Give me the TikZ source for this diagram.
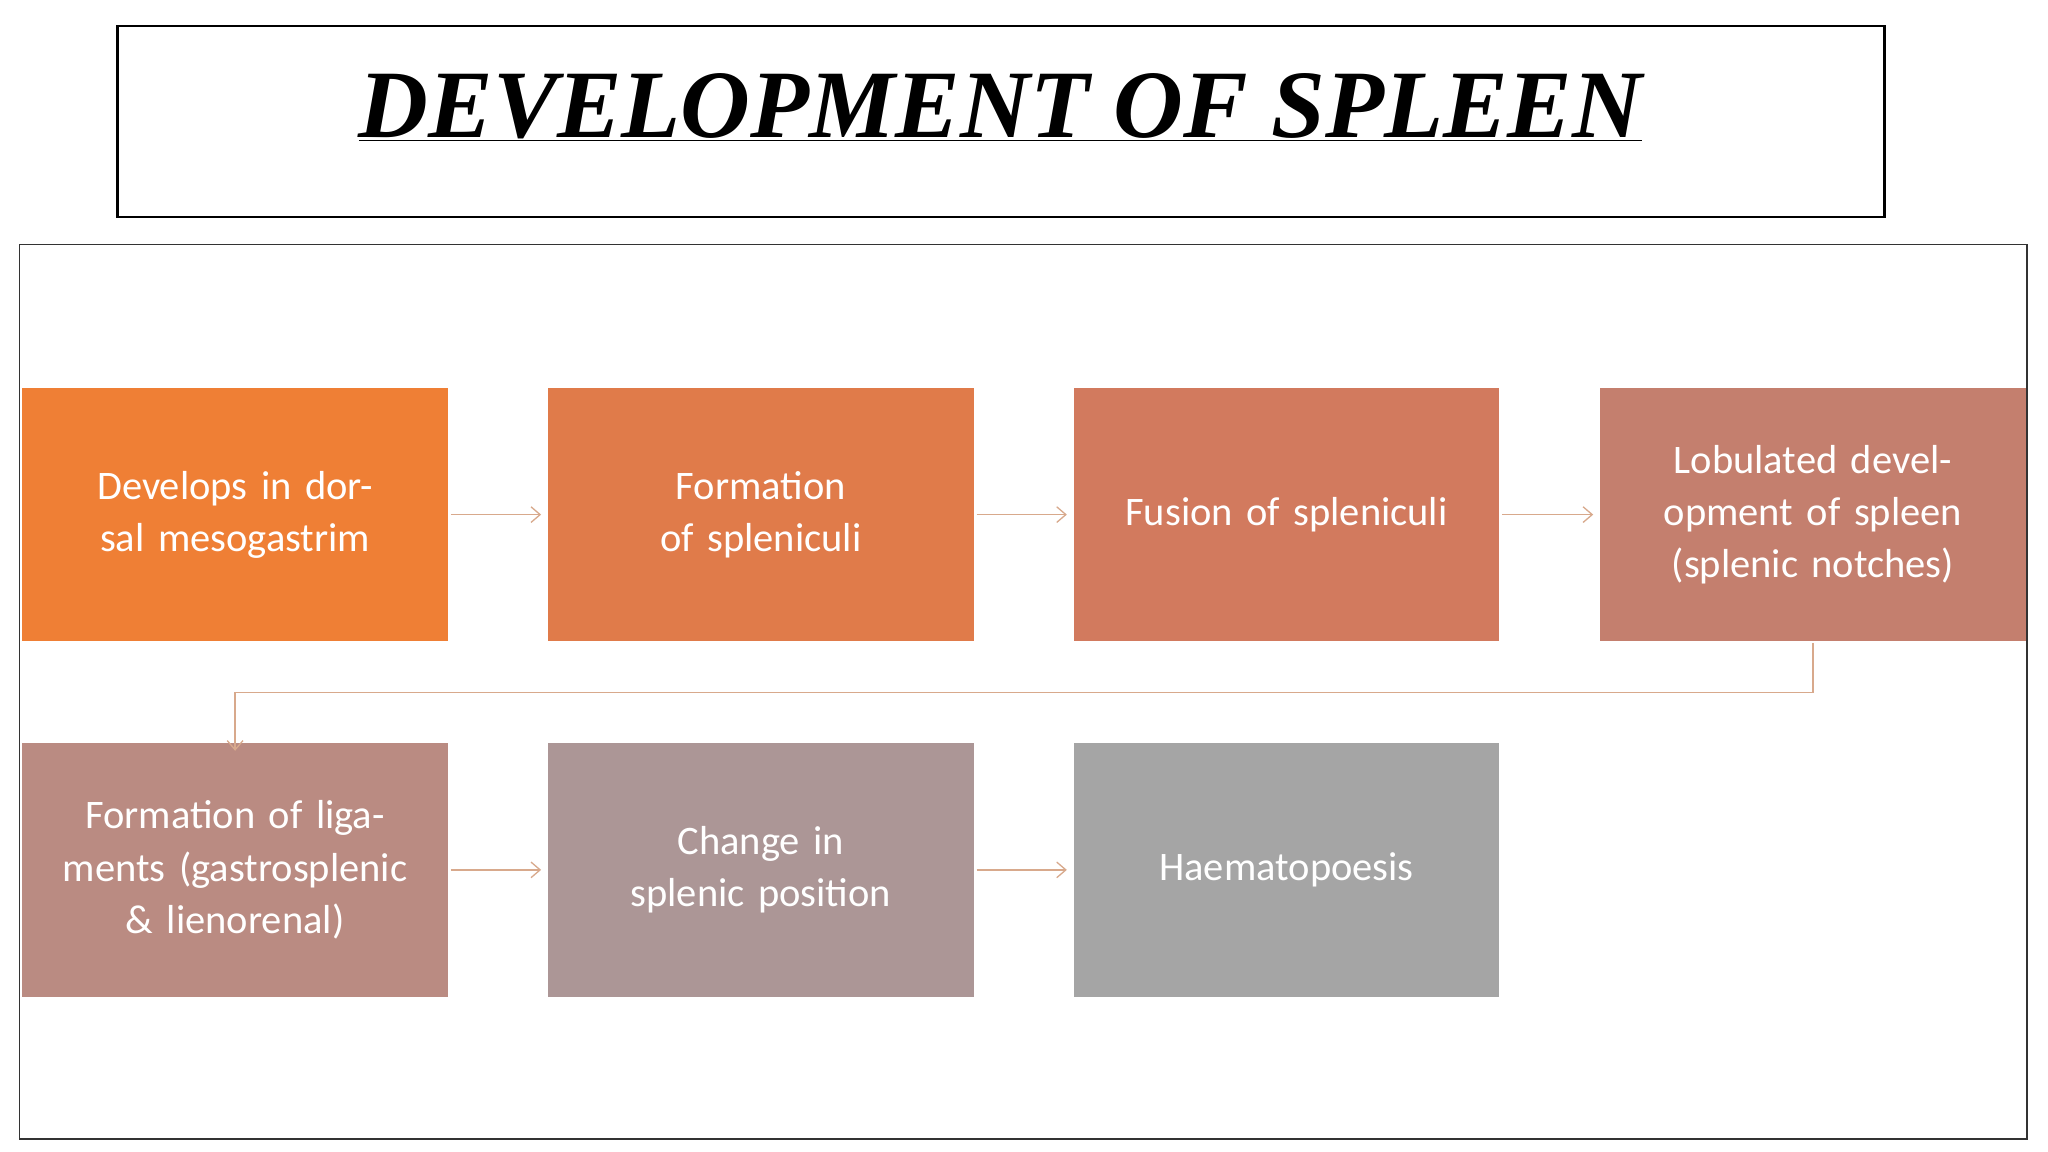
\documentclass[tikz,border=0pt]{standalone}
\usepackage{fontspec}
\setmainfont{Carlito}
\newfontfamily\titlefont{Liberation Serif}
\usetikzlibrary{positioning,arrows.meta}
\definecolor{cA}{HTML}{EF7F35}
\definecolor{cB}{HTML}{E07B4A}
\definecolor{cC}{HTML}{D27A5E}
\definecolor{cD}{HTML}{C47F6E}
\definecolor{cE}{HTML}{BA8B82}
\definecolor{cF}{HTML}{AC9696}
\definecolor{cG}{HTML}{A5A5A5}
\definecolor{arr}{HTML}{D8A98C}
\tikzset{stepbox/.style={minimum width=326pt,minimum height=194pt,inner sep=0pt,
  text width=290pt,align=center,text=white,
  font=\fontsize{31}{40}\selectfont},
  flow/.style={draw=arr,line width=1pt,-{Straight Barb[length=7pt,width=12pt]}}}
\begin{document}
\begin{tikzpicture}[x=1pt,y=-1pt]
  \useasboundingbox (0,0) rectangle (1568,882);
  \fill[white] (0,0) rectangle (1568,882);
  % frames
  \draw[line width=2pt] (90,20) rectangle (1443,166);
  \node (title) at (766,82) {\titlefont\bfseries\itshape\fontsize{74}{80}\selectfont\underline{DEVELOPMENT OF SPLEEN}};
  \draw[line width=1pt,black!80] (15,187) rectangle (1552,872);
  % boxes
  \node[stepbox,fill=cA] (s1) at (180,394) {Develops in dorsal mesogastrim};
  \node[stepbox,fill=cB] (s2) at (582.5,394) {Formation of spleniculi};
  \node[stepbox,fill=cC] (s3) at (985,394) {Fusion of spleniculi};
  \node[stepbox,fill=cD] (s4) at (1388,394) {Lobulated development of spleen (splenic notches)};
  \node[stepbox,fill=cE] (s5) at (180,666) {Formation of ligaments (gastrosplenic \& lienorenal)};
  \node[stepbox,fill=cF] (s6) at (582.5,666) {Change in splenic position};
  \node[stepbox,fill=cG] (s7) at (985,666) {Haematopoesis};
  % arrows
  \draw[flow] ([xshift=2pt]s1.east) -- ([xshift=-5pt]s2.west);
  \draw[flow] ([xshift=2pt]s2.east) -- ([xshift=-5pt]s3.west);
  \draw[flow] ([xshift=2pt]s3.east) -- ([xshift=-5pt]s4.west);
  \draw[flow] ([yshift=-1pt]s4.south) -- ++(0,38) -| ([yshift=-6pt]s5.north);
  \draw[flow] ([xshift=2pt]s5.east) -- ([xshift=-5pt]s6.west);
  \draw[flow] ([xshift=2pt]s6.east) -- ([xshift=-5pt]s7.west);
\end{tikzpicture}
\end{document}
